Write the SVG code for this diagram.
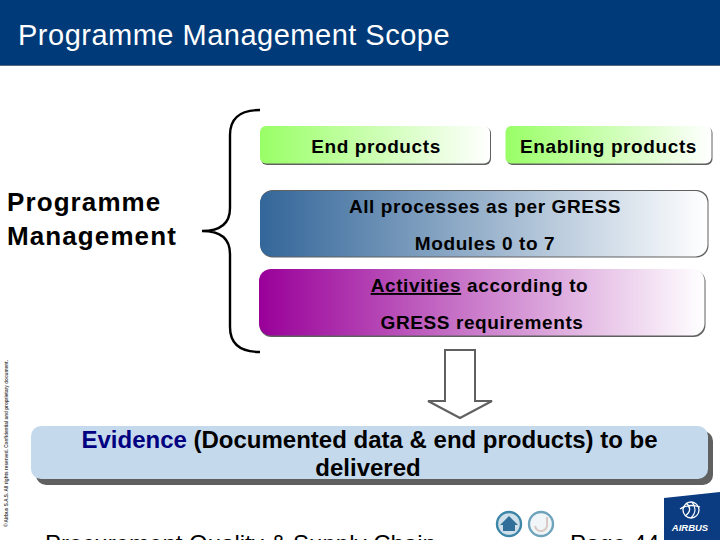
<svg xmlns="http://www.w3.org/2000/svg" width="720" height="540" viewBox="0 0 720 540">
<style>
text{font-family:"Liberation Sans",Arial,sans-serif;fill:#000}
.b{font-weight:bold;font-size:19px;letter-spacing:.6px;text-anchor:middle}
.edge{fill:#606060}
.shadow{fill:#606060}
</style>
<defs>
<linearGradient id="g"><stop offset="0" stop-color="#99ff66"/><stop offset="1" stop-color="#fff"/></linearGradient>
<linearGradient id="bl"><stop offset="0" stop-color="#336699"/><stop offset="1" stop-color="#fff"/></linearGradient>
<linearGradient id="pu"><stop offset="0" stop-color="#990099"/><stop offset="1" stop-color="#fff"/></linearGradient>
</defs>
<rect width="720" height="540" fill="#fff"/>
<g id="header"><rect width="720" height="66" fill="#003a78"/><rect y="65" width="720" height="1" fill="#5a6a7a"/>
<text x="18" y="45" font-size="29" letter-spacing=".5" style="fill:#fff">Programme Management Scope</text></g>
<g id="title-left"><text x="7" y="211" font-size="26" font-weight="bold" letter-spacing="1.1">Programme</text>
<text x="7" y="245" font-size="26" font-weight="bold" letter-spacing="1.1">Management</text></g>
<g id="brace"><path d="M260 110C240 110 230 118 230 135V208C230 222 222 231 202 231C222 231 230 240 230 254V327C230 344 240 352 260 352" fill="none" stroke="#000" stroke-width="2.400"/></g>
<g id="end-products"><rect x="261" y="127" width="230" height="38" rx="6" class="edge"/><rect x="260" y="126" width="230" height="37.500" rx="6" fill="url(#g)"/>
<text x="376" y="153" class="b">End products</text></g>
<g id="enabling-products"><rect x="506.500" y="127" width="206" height="38" rx="6" class="edge"/><rect x="505.500" y="126" width="206" height="37.500" rx="6" fill="url(#g)"/>
<text x="608.500" y="153" class="b">Enabling products</text></g>
<g id="processes"><rect x="260.500" y="190" width="448" height="67.500" rx="12" class="edge"/><rect x="260" y="191" width="447.500" height="65.500" rx="12" fill="url(#bl)"/>
<text x="485" y="213" class="b">All processes as per GRESS</text>
<text x="485" y="250" class="b">Modules 0 to 7</text></g>
<g id="activities"><rect x="259.500" y="270" width="446" height="67" rx="12" class="edge"/><rect x="259" y="269" width="445.500" height="66.500" rx="12" fill="url(#pu)"/>
<text x="479.500" y="292" class="b"><tspan text-decoration="underline">Activities</tspan> according to</text>
<text x="482" y="329" class="b">GRESS requirements</text></g>
<g id="connectors"><path d="M445 350V401H428L460 418L492 401H475V350Z" fill="#fff" stroke="#606060" stroke-width="2"/></g>
<g id="evidence"><rect x="36" y="431" width="677" height="54" rx="10" class="shadow"/>
<rect x="31" y="426" width="677" height="53" rx="10" fill="#c5d9ec"/>
<text x="369.500" y="448" font-size="24" font-weight="bold" text-anchor="middle"><tspan style="fill:#000080">Evidence</tspan> (Documented data &amp; end products) to be</text>
<text x="368" y="476" font-size="24" font-weight="bold" text-anchor="middle">delivered</text></g>
<g id="copyright"><text transform="translate(8 527) rotate(-90)" font-size="4.700" font-weight="bold" style="fill:#444">© Airbus S.A.S. All rights reserved. Confidential and proprietary document.</text></g>
<g id="footer"><text x="45" y="552" font-size="24">Procurement Quality &amp; Supply Chain</text>
<text x="570" y="552" font-size="24">Page 44</text></g>
<g id="home-icon"><circle cx="509" cy="524" r="12" fill="#cfe0ea" stroke="#3d86a8" stroke-width="2.400"/><path d="M509 516L518 525H515V531H503V525H500Z" fill="#2f6f9a"/></g>
<g id="back-icon"><circle cx="541" cy="524" r="12" fill="#f0f5f7" stroke="#6ea3bb" stroke-width="2.400"/><path d="M547 517V524A6 6 0 0 1 535 526" fill="none" stroke="#d9c8c4" stroke-width="2"/></g>
<g id="airbus-logo"><path d="M664 498L720 492V540H664Z" fill="#0b3b80"/>
<g fill="none" stroke="#fff" stroke-width="1.300"><circle cx="691" cy="510" r="8"/><path d="M686 503C691 507 691 512 685 516M692 502C696 507 696 513 691 518M680 509C686 505 694 505 700 507"/></g>
<text x="690" y="531" font-size="9.500" font-weight="bold" font-style="italic" text-anchor="middle" style="fill:#fff">AIRBUS</text></g>
</svg>
